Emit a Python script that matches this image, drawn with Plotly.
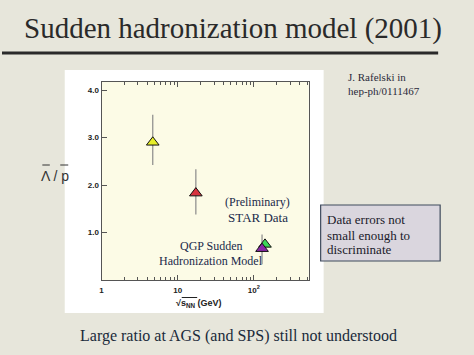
import plotly.graph_objects as go

W, H = 474, 355

# ---- data ----
sqrt_s_nn = [4.7, 17.3, 140, 128]
ratio = [2.9, 1.83, 0.75, 0.66]
err_plus = [0.58, 0.5, 0.0, 0.3]
err_minus = [0.48, 0.45, 0.0, 0.33]
colors = ["#E6EE2A", "#D8343E", "#3CD858", "#8A28A8"]
x_tickvals = [1, 10, 100]
x_ticktext = ["1", "10", "10<sup>2</sup>"]
y_tickvals = [1, 2, 3, 4]
y_ticktext = ["1.0", "2.0", "3.0", "4.0"]
box_lines = ["Data errors not", "small enough to", "discriminate"]

def px(x):
    return x / W

def py(y):
    return 1 - y / H

BG = "#E7E6DB"
fig = go.Figure()

fig.add_trace(go.Scatter(
    x=sqrt_s_nn, y=ratio, mode="markers",
    marker=dict(symbol="triangle-up", size=11, color=colors,
                line=dict(color="#111", width=1)),
    error_y=dict(type="data", symmetric=False, array=err_plus,
                 arrayminus=err_minus, color="#8a8a8a", thickness=1.2, width=0),
    showlegend=False, hoverinfo="skip"))

sans = "Arial, 'Liberation Sans', sans-serif"
fig.update_layout(
    width=W, height=H, margin=dict(l=0, r=0, t=0, b=0),
    paper_bgcolor=BG, plot_bgcolor="rgba(0,0,0,0)",
    xaxis=dict(type="log", range=[0, 2.72], domain=[px(100), px(308)],
               tickvals=x_tickvals, ticktext=["<b>%s</b>" % t for t in x_ticktext],
               ticks="inside", ticklen=5, tickcolor="#555",
               minor=dict(dtick="D1", ticks="inside", ticklen=3, tickcolor="#555"),
               showline=True, linecolor="#555", linewidth=1, mirror="ticks",
               showgrid=False, zeroline=False,
               tickfont=dict(family=sans, size=8, color="#222"),
               ticklabelstandoff=2),
    yaxis=dict(range=[0, 4.17], domain=[py(280), py(82)],
               tickvals=y_tickvals, ticktext=["<b>%s</b>" % t for t in y_ticktext],
               ticks="inside", ticklen=5, tickcolor="#555",
               showline=True, linecolor="#555", linewidth=1, mirror=True,
               showgrid=False, zeroline=False,
               tickfont=dict(family=sans, size=8, color="#222")),
)

shapes = [
    dict(type="rect", xref="paper", yref="paper", x0=px(63), x1=px(323),
         y0=py(313), y1=py(70), fillcolor="white", line=dict(width=0), layer="below"),
    dict(type="rect", xref="x domain", yref="y domain", x0=0, x1=1, y0=0, y1=1,
         fillcolor="#FCFBE6", line=dict(width=0), layer="below"),
    dict(type="line", xref="paper", yref="paper", x0=0, x1=px(438),
         y0=py(53), y1=py(53), line=dict(color="#2a2a2a", width=3)),
    dict(type="rect", xref="paper", yref="paper", x0=px(320), x1=px(440),
         y0=py(261), y1=py(205), fillcolor="#DAD6DE",
         line=dict(color="#3E4A5C", width=1.2)),
    # overbars of the y label
    dict(type="line", xref="paper", yref="paper", x0=px(40.5), x1=px(48),
         y0=py(165), y1=py(165), line=dict(color="#333", width=1)),
    dict(type="line", xref="paper", yref="paper", x0=px(58.5), x1=px(66.5),
         y0=py(165), y1=py(165), line=dict(color="#333", width=1)),
    # vinculum of the square root in the x title
    dict(type="line", xref="paper", yref="paper", x0=px(180.5), x1=px(196),
         y0=py(297.5), y1=py(297.5), line=dict(color="#222", width=1)),
]
fig.update_layout(shapes=shapes)

serif = "'Times New Roman', 'Liberation Serif', Times, serif"
ann = [
    dict(text="Sudden hadronization model (2001)", x=px(232), y=py(28),
         font=dict(family=serif, size=29, color="#2a2a2a")),
    dict(text="J. Rafelski in<br>hep-ph/0111467", x=px(345), y=py(84), xanchor="left",
         align="left", font=dict(family=serif, size=11, color="#2a2a3a")),
    dict(text="(Preliminary)", x=px(257), y=py(202),
         font=dict(family=serif, size=12, color="#1a2a4a")),
    dict(text="STAR Data", x=px(257), y=py(217),
         font=dict(family=serif, size=13, color="#1a2a4a")),
    dict(text="QGP Sudden", x=px(210), y=py(246),
         font=dict(family=serif, size=12, color="#1a2a4a")),
    dict(text="Hadronization Model", x=px(210), y=py(261),
         font=dict(family=serif, size=12, color="#1a2a4a")),
    dict(text="<b>\u221as<sub>NN</sub> (GeV)</b>", x=px(198), y=py(303),
         font=dict(family=sans, size=9, color="#222")),
    dict(text="\u039b / p", x=px(53.5), y=py(176),
         font=dict(family=sans, size=14, color="#333")),
    dict(text="Large ratio at AGS (and SPS) still not understood", x=px(237), y=py(336),
         font=dict(family=serif, size=16, color="#1a2a3a")),
]
for i, line in enumerate(box_lines):
    ann.append(dict(text=line, x=px(324), y=py(220 + 15 * i), xanchor="left",
                    font=dict(family=serif, size=13, color="#1a1a2a")))
for a in ann:
    a.setdefault("xref", "paper")
    a.setdefault("yref", "paper")
    a.setdefault("showarrow", False)
    a.setdefault("xanchor", "center")
    a.setdefault("yanchor", "middle")
fig.update_layout(annotations=ann)

fig.write_html("out.html")
